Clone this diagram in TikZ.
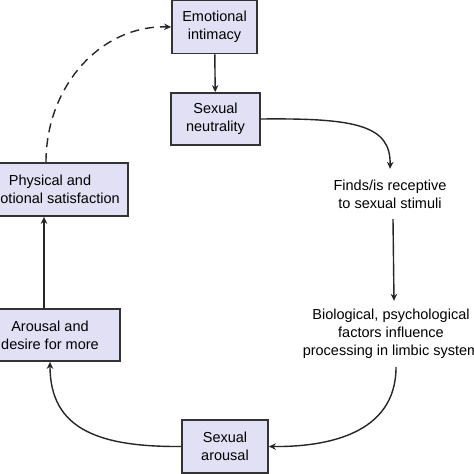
\documentclass[tikz,border=0pt]{standalone}
\usepackage{fontspec}
\setmainfont{Liberation Sans}
\usetikzlibrary{arrows.meta}
\definecolor{boxfill}{HTML}{E2E0F5}
\definecolor{boxline}{HTML}{333333}
\tikzset{
  stage/.style={draw=boxline,line width=1.8pt,fill=boxfill,align=center,inner sep=0pt},
  plain/.style={align=center,inner sep=0pt},
  arr/.style={-{Stealth[length=7pt,width=6.5pt]},line width=1.4pt,draw=black!85}
}
\begin{document}
\begin{tikzpicture}[x=1pt,y=-1pt,font=\fontsize{14.5}{18}\selectfont]
	\useasboundingbox (0,0) rectangle (474,474);
	\clip (0,0) rectangle (474,474);
	\node[stage,minimum width=85pt,minimum height=53pt] (emo) at (214.5,27) {Emotional\\intimacy};
	\node[stage,minimum width=89pt,minimum height=52pt] (neu) at (215.5,119) {Sexual\\neutrality};
	\node[plain,minimum height=50pt] (finds) at (390,194) {Finds/is receptive\\to sexual stimuli};
	\node[plain,minimum height=66pt] (bio) at (391,334) {Biological, psychological\\factors influence\\processing in limbic system};
	\node[stage,minimum width=86pt,minimum height=53pt] (sa) at (225,446.5) {Sexual\\arousal};
	\node[stage,minimum width=140pt,minimum height=52pt] (ar) at (50,335) {Arousal and\\desire for more};
	\node[stage,minimum width=156pt,minimum height=53pt] (ph) at (50,189.5) {Physical and\\emotional satisfaction};
	\draw[arr] (emo) -- (neu);
	\draw[arr] (neu.east) .. controls (355,118) and (391,125) .. (finds.north);
	\draw[arr] ([xshift=3pt]finds.south) -- ([xshift=3pt]bio.north);
	\draw[arr] ([xshift=5pt]bio.south) .. controls (396,435) and (325,447) .. (sa.east);
	\draw[arr] (sa.west) .. controls (100,447) and (50,430) .. (ar.south);
	\draw[arr] ([xshift=-6pt]ar.north) -- ([xshift=-6pt]ar.north |- ph.south);
	\draw[arr,dashed,dash pattern=on 9pt off 6pt] ([xshift=-4pt]ph.north) .. controls (46,86) and (101,25) .. (emo.west);
\end{tikzpicture}
\end{document}
